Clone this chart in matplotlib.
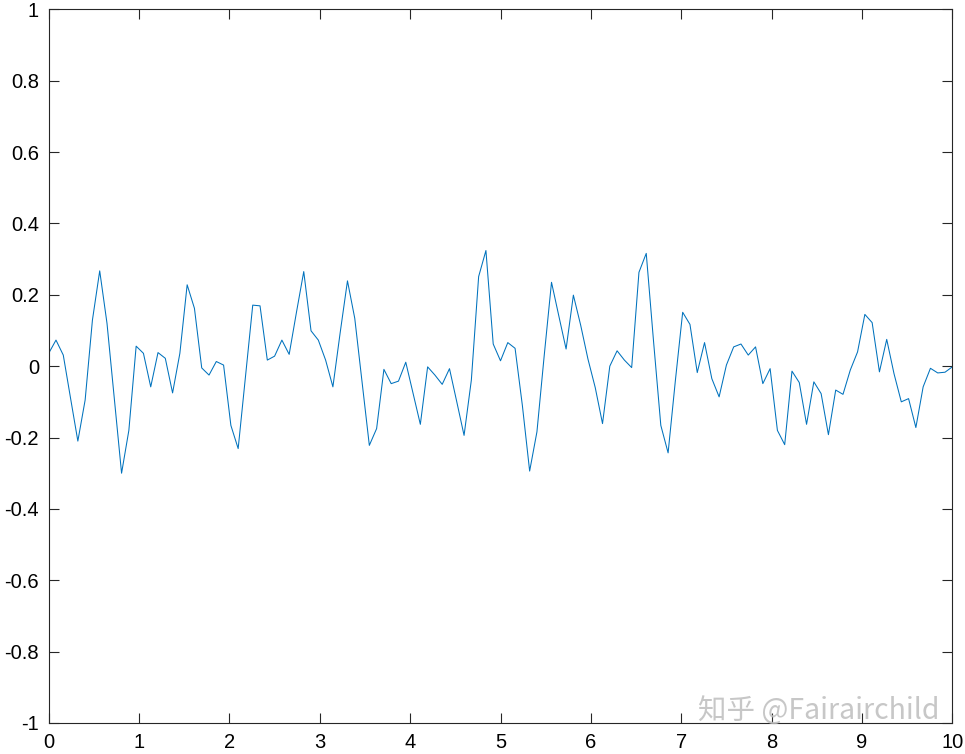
import matplotlib.pyplot as plt
import numpy as np

# signal samples, 125 evenly spaced points on [0, 10]
t_start = 0
t_end = 10
y = [0.036, 0.073, 0.031, -0.09, -0.21, -0.095, 0.129, 0.267, 0.12, -0.09,
     -0.30, -0.18, 0.056, 0.036, -0.058, 0.038, 0.022, -0.075, 0.036, 0.228,
     0.162, -0.005, -0.025, 0.013, 0.003, -0.166, -0.231, -0.03, 0.171, 0.169,
     0.017, 0.028, 0.073, 0.033, 0.151, 0.265, 0.099, 0.073, 0.017, -0.058,
     0.094, 0.239, 0.134, -0.044, -0.222, -0.175, -0.009, -0.049, -0.042, 0.011,
     -0.076, -0.163, -0.002, -0.025, -0.051, -0.007, -0.10, -0.194, -0.039, 0.251,
     0.324, 0.062, 0.015, 0.066, 0.05, -0.11, -0.294, -0.184, 0.03, 0.235,
     0.141, 0.048, 0.199, 0.115, 0.02, -0.06, -0.161, 0.0, 0.043, 0.017,
     -0.004, 0.263, 0.316, 0.07, -0.166, -0.243, -0.04, 0.151, 0.117, -0.018,
     0.066, -0.035, -0.086, 0.003, 0.054, 0.062, 0.031, 0.054, -0.049, -0.007,
     -0.18, -0.22, -0.014, -0.046, -0.163, -0.044, -0.077, -0.192, -0.067, -0.079,
     -0.011, 0.04, 0.145, 0.122, -0.016, 0.075, -0.021, -0.1, -0.091, -0.172,
     -0.058, -0.006, -0.019, -0.017, -0.002]
t = np.linspace(t_start, t_end, len(y))

xticks = np.arange(0, 11, 1)
yticks = np.round(np.arange(-1, 1.01, 0.2), 1)
ytick_labels = ["-1", "-0.8", "-0.6", "-0.4", "-0.2", "0", "0.2", "0.4", "0.6", "0.8", "1"]

plt.rcParams['font.family'] = ['Liberation Sans', 'DejaVu Sans']

fig = plt.figure(figsize=(9.65, 7.54), dpi=100)
ax = fig.add_axes([48.7 / 965, 31 / 754, 903.6 / 965, 713.7 / 754])

ax.plot(t, y, color='#0072BD', linewidth=0.75)

ax.set_xlim(0, 10)
ax.set_ylim(-1, 1)
ax.set_xticks(xticks)
ax.set_xticklabels([str(v) for v in xticks])
ax.set_yticks(yticks)
ax.set_yticklabels(ytick_labels)
ax.tick_params(direction='in', length=7, width=0.8, labelsize=14.5, pad=7,
               top=True, right=True, colors='#262626', labelcolor='black')
for s in ax.spines.values():
    s.set_linewidth(0.8)
    s.set_color('#262626')

# watermark
fig.text(940 / 965, 1 - 727 / 754, "知乎 @Fairairchild", ha='right', va='bottom',
         fontsize=20.5, color='#bdbdbd', alpha=0.85,
         family=['Noto Sans CJK SC', 'DejaVu Sans'])

fig.savefig("out.png", dpi=100)
